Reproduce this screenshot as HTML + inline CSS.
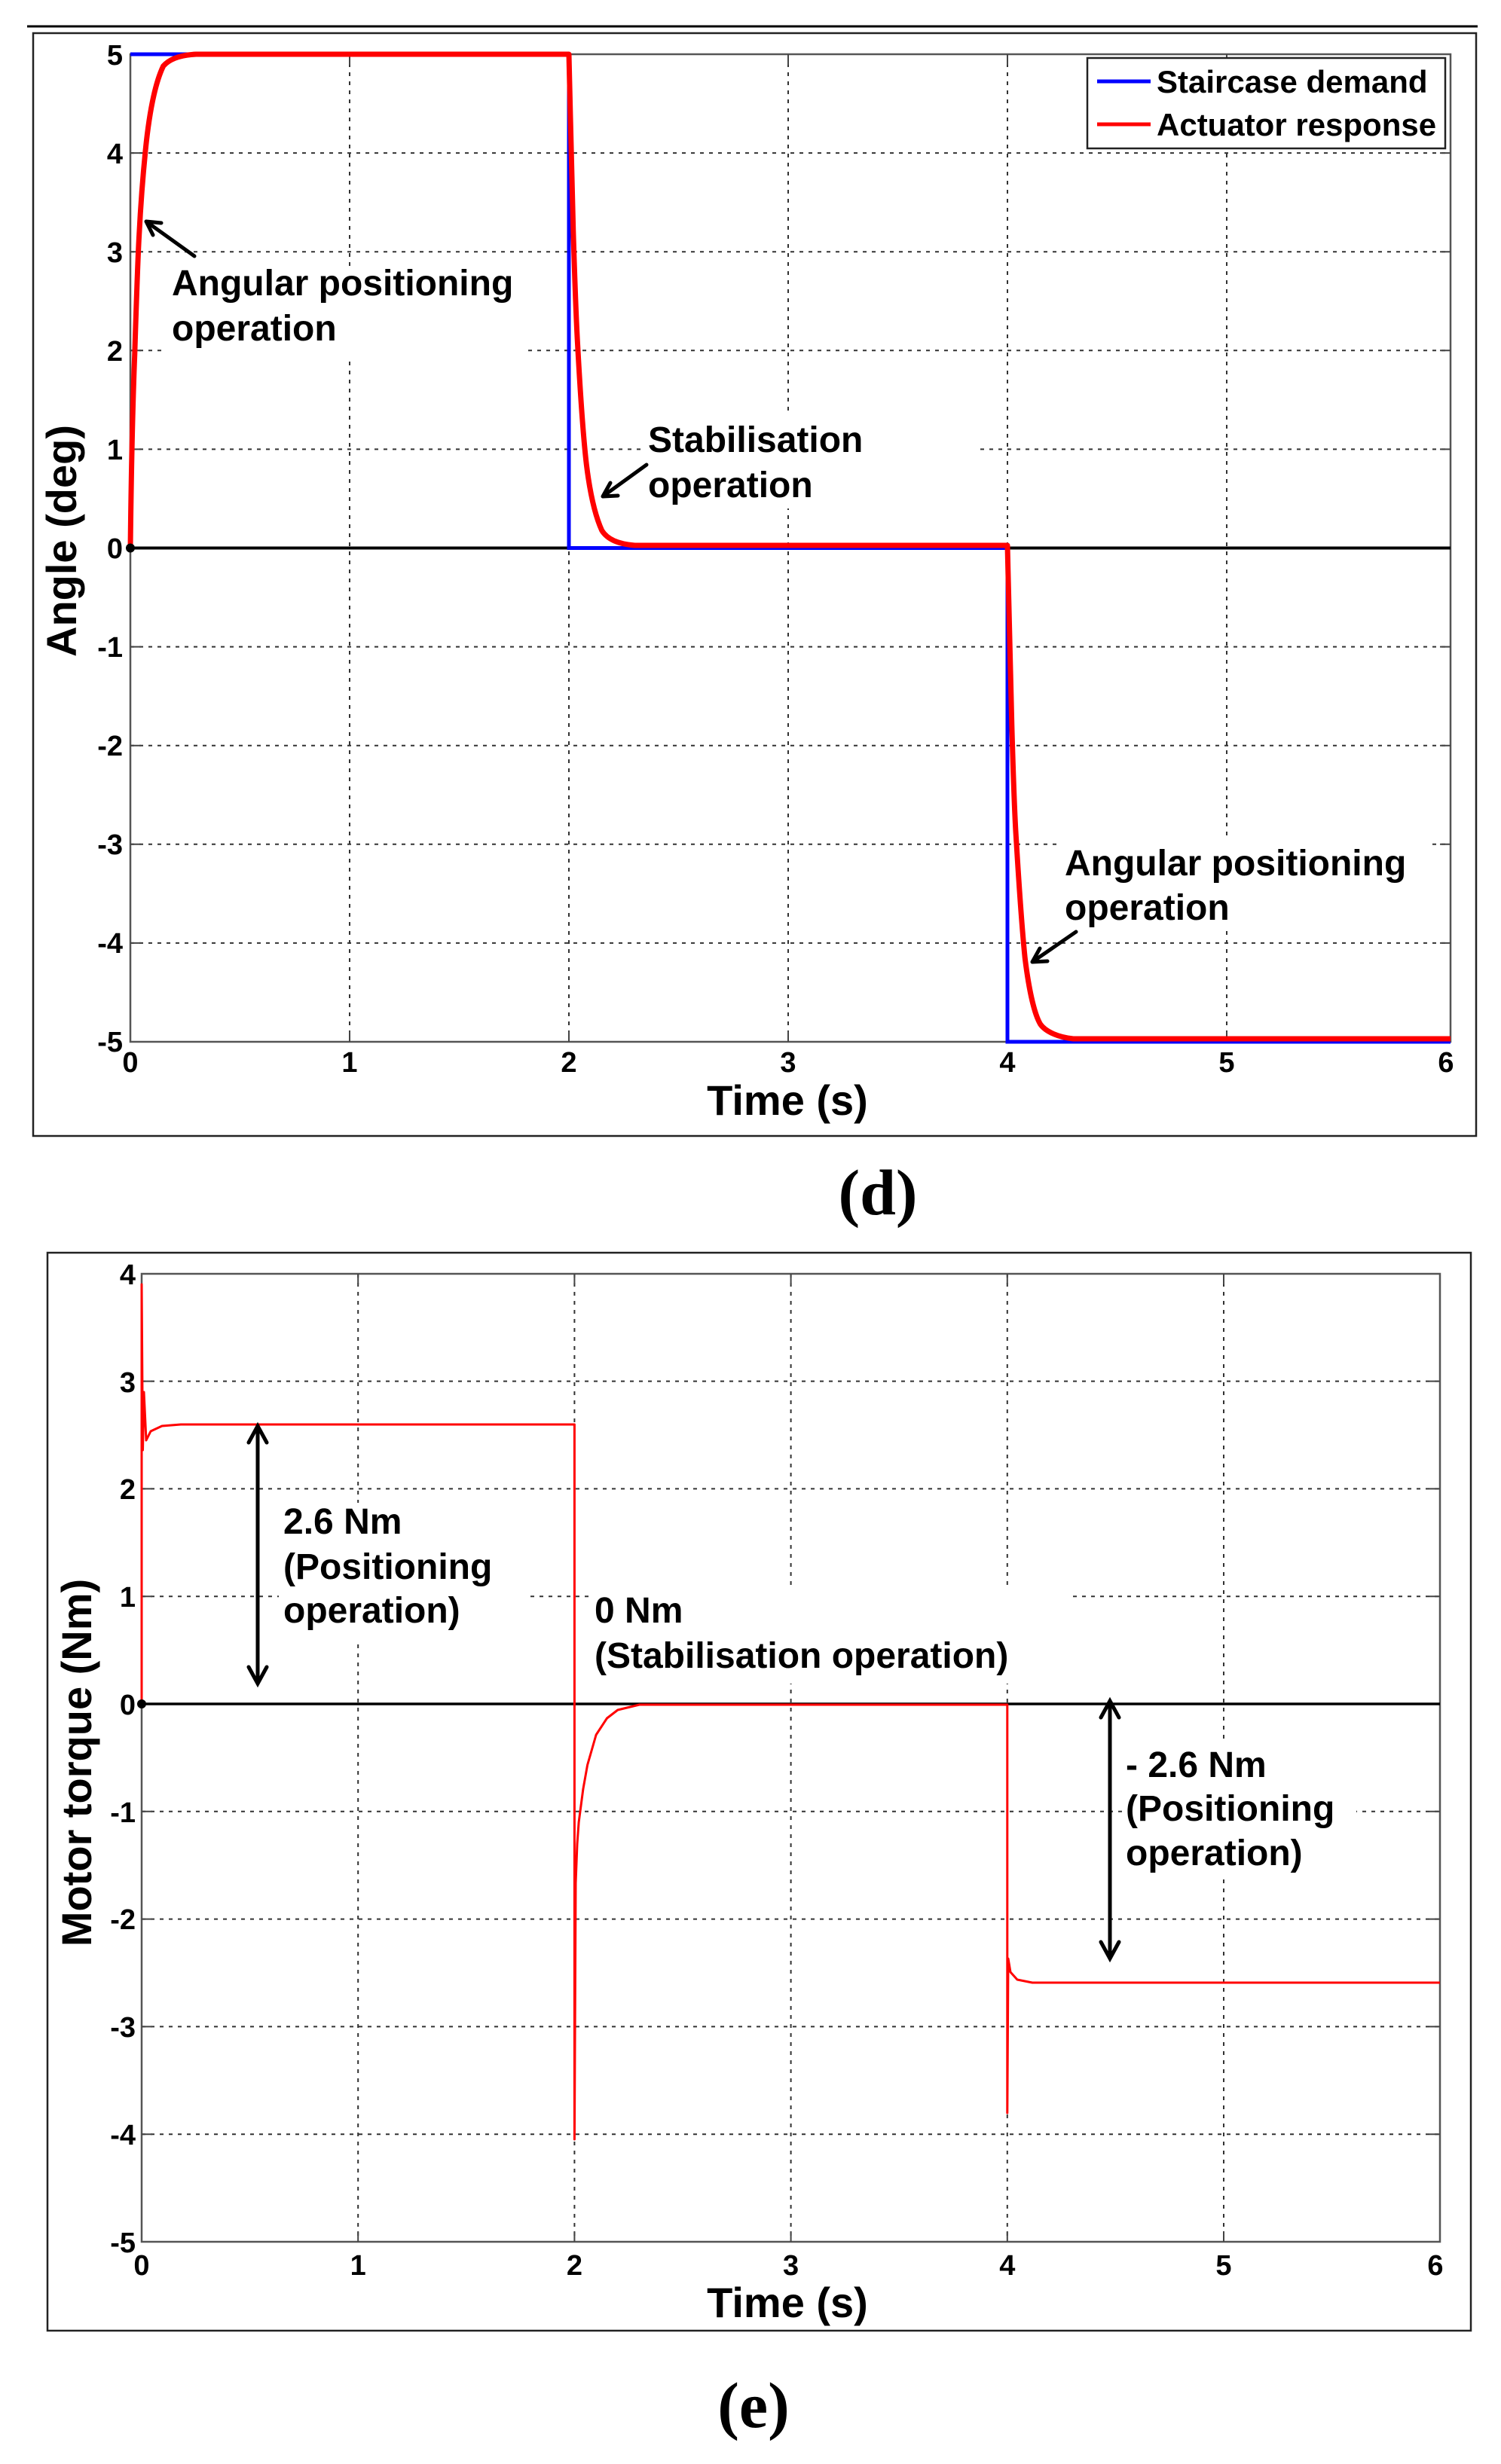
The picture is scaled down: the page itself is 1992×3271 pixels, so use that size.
<!DOCTYPE html>
<html><head><meta charset="utf-8"><style>
html,body{margin:0;padding:0;background:#fff;}
svg{display:block;}
text{font-family:"Liberation Sans",Arial,sans-serif;font-weight:bold;fill:#000;}
.ser{font-family:"Liberation Serif","Times New Roman",serif;}
</style></head><body>
<svg width="1992" height="3271" viewBox="0 0 1992 3271" xmlns="http://www.w3.org/2000/svg">
<rect width="1992" height="3271" fill="#fff"/>
<line x1="36" y1="35" x2="1961" y2="35" stroke="#000" stroke-width="3"/>

<!-- ========== (d) ========== -->
<rect x="44" y="44" width="1915" height="1464" fill="none" stroke="#222" stroke-width="2.5"/>
<g stroke="#333" stroke-width="2" stroke-dasharray="5 7" fill="none">
<path d="M464 72V1383M755 72V1383M1046 72V1383M1337 72V1383M1628 72V1383"/>
<path d="M173 203.1H1925M173 334.2H1925M173 465.3H1925M173 596.4H1925M173 858.6H1925M173 989.7H1925M173 1120.8H1925M173 1251.9H1925"/>
</g>
<rect x="220" y="355" width="480" height="120" fill="#fff"/>
<rect x="855" y="550" width="440" height="125" fill="#fff"/>
<rect x="1405" y="1115" width="490" height="120" fill="#fff"/>
<rect x="173" y="72" width="1752" height="1311" fill="none" stroke="#555" stroke-width="2.5"/>
<g stroke="#444" stroke-width="2">
<path d="M464 1383v-14M755 1383v-14M1046 1383v-14M1337 1383v-14M1628 1383v-14M464 72v14M755 72v14M1046 72v14M1337 72v14M1628 72v14"/>
<path d="M173 203.1h14M173 334.2h14M173 465.3h14M173 596.4h14M173 858.6h14M173 989.7h14M173 1120.8h14M173 1251.9h14M1925 203.1h-14M1925 334.2h-14M1925 465.3h-14M1925 596.4h-14M1925 858.6h-14M1925 989.7h-14M1925 1120.8h-14M1925 1251.9h-14"/>
</g>
<line x1="173" y1="727.5" x2="1925" y2="727.5" stroke="#000" stroke-width="4"/>
<path d="M173 72H755V727.5H1337V1383H1925" fill="none" stroke="#0000ff" stroke-width="5"/>
<path d="M173 727.5C174 640 176 540 178.8 469.6C181 400 183 340 184.6 313.2C187 265 190 230 193 200C198 150 206 110 216.7 87.7C225 78 240 73 260.3 72H755C757 150 759 250 760.8 307.3C763 380 765 430 766.6 458.1C770 520 774 580 778.3 616.7C783 655 790 685 798.7 704.2C806 716 820 722 842.3 724H1337C1339 810 1341 900 1342.8 962.8C1345 1040 1347 1090 1348.6 1113.6C1352 1170 1356 1230 1360.3 1272.2C1365 1310 1372 1345 1380.7 1359.7C1388 1370 1405 1377 1424.3 1379H1925" fill="none" stroke="#ff0000" stroke-width="7" stroke-linejoin="round"/>
<circle cx="173" cy="727.5" r="6" fill="#000"/>
<g font-size="38" text-anchor="end">
<text x="163" y="86">5</text><text x="163" y="217">4</text><text x="163" y="348">3</text><text x="163" y="479">2</text><text x="163" y="610">1</text><text x="163" y="741">0</text><text x="163" y="872">-1</text><text x="163" y="1003">-2</text><text x="163" y="1134">-3</text><text x="163" y="1265">-4</text><text x="163" y="1396">-5</text>
</g>
<g font-size="38" text-anchor="middle">
<text x="173" y="1423">0</text><text x="464" y="1423">1</text><text x="755" y="1423">2</text><text x="1046" y="1423">3</text><text x="1337" y="1423">4</text><text x="1628" y="1423">5</text><text x="1919" y="1423">6</text>
</g>
<text x="1045" y="1480" font-size="56" text-anchor="middle">Time (s)</text>
<text transform="translate(101,718) rotate(-90)" font-size="56" text-anchor="middle">Angle (deg)</text>
<rect x="1443" y="77" width="475" height="120" fill="#fff" stroke="#222" stroke-width="2.5"/>
<line x1="1456" y1="108" x2="1527" y2="108" stroke="#0000ff" stroke-width="5"/>
<line x1="1456" y1="165" x2="1527" y2="165" stroke="#ff0000" stroke-width="5"/>
<text x="1535" y="123" font-size="42">Staircase demand</text>
<text x="1535" y="180" font-size="42">Actuator response</text>
<text x="228" y="392" font-size="48">Angular positioning</text>
<text x="228" y="452" font-size="48">operation</text>
<g stroke="#000" stroke-width="5" fill="none" stroke-linecap="round">
<path d="M258 340L194 294M194 294L214 296M194 294L203 312"/>
<path d="M858 617L800 659M800 659L810 641M800 659L820 658"/>
<path d="M1428 1237L1370 1277M1370 1277L1380 1259M1370 1277L1390 1276"/>
</g>
<text x="860" y="600" font-size="48">Stabilisation</text>
<text x="860" y="660" font-size="48">operation</text>
<text x="1413" y="1162" font-size="48">Angular positioning</text>
<text x="1413" y="1221" font-size="48">operation</text>
<text x="1165" y="1612" font-size="86" text-anchor="middle" class="ser">(d)</text>

<!-- ========== (e) ========== -->
<rect x="63" y="1663" width="1889" height="1431" fill="none" stroke="#222" stroke-width="2.5"/>
<g stroke="#333" stroke-width="2" stroke-dasharray="5 7" fill="none">
<path d="M475.2 1691V2976M762.4 1691V2976M1049.6 1691V2976M1336.8 1691V2976M1624 1691V2976"/>
<path d="M188 1833.6H1911M188 1976.4H1911M188 2119.2H1911M188 2404.8H1911M188 2547.6H1911M188 2690.4H1911M188 2833.2H1911"/>
</g>
<rect x="370" y="1995" width="330" height="185" fill="#fff"/>
<rect x="782" y="2110" width="640" height="125" fill="#fff"/>
<rect x="1490" y="2310" width="310" height="185" fill="#fff"/>
<rect x="188" y="1691" width="1723" height="1285" fill="none" stroke="#555" stroke-width="2.5"/>
<g stroke="#444" stroke-width="2">
<path d="M475.2 2976v-14M762.4 2976v-14M1049.6 2976v-14M1336.8 2976v-14M1624 2976v-14M475.2 1691v14M762.4 1691v14M1049.6 1691v14M1336.8 1691v14M1624 1691v14"/>
<path d="M188 1833.6h14M188 1976.4h14M188 2119.2h14M188 2404.8h14M188 2547.6h14M188 2690.4h14M188 2833.2h14M1911 1833.6h-14M1911 1976.4h-14M1911 2119.2h-14M1911 2404.8h-14M1911 2547.6h-14M1911 2690.4h-14M1911 2833.2h-14"/>
</g>
<line x1="188" y1="2262" x2="1911" y2="2262" stroke="#000" stroke-width="3.5"/>
<path d="M188 2262L188 1705L189.5 1925L191 1848L194 1912L200 1900L215 1893L240 1891H762.4L762.4 2840L764 2500L766 2448L768.1 2419L773.9 2375L779.6 2343L791.1 2303L805.5 2281L819.8 2270L848.6 2263H1336.8L1336.8 2805L1338 2600L1341 2618L1350 2628L1370 2632H1911" fill="none" stroke="#ff0000" stroke-width="3" stroke-linejoin="round"/>
<circle cx="188" cy="2262" r="6" fill="#000"/>
<g font-size="38" text-anchor="end">
<text x="180" y="1705">4</text><text x="180" y="1848">3</text><text x="180" y="1990">2</text><text x="180" y="2133">1</text><text x="180" y="2276">0</text><text x="180" y="2419">-1</text><text x="180" y="2561">-2</text><text x="180" y="2704">-3</text><text x="180" y="2847">-4</text><text x="180" y="2990">-5</text>
</g>
<g font-size="38" text-anchor="middle">
<text x="188" y="3020">0</text><text x="475.2" y="3020">1</text><text x="762.4" y="3020">2</text><text x="1049.6" y="3020">3</text><text x="1336.8" y="3020">4</text><text x="1624" y="3020">5</text><text x="1905" y="3020">6</text>
</g>
<text x="1045" y="3076" font-size="56" text-anchor="middle">Time (s)</text>
<text transform="translate(121,2340) rotate(-90)" font-size="56" text-anchor="middle">Motor torque (Nm)</text>
<g stroke="#000" stroke-width="5" fill="none" stroke-linecap="round">
<path d="M342 1895V2233M330 1915L342 1893L354 1915M330 2213L342 2235L354 2213"/>
<path d="M1473 2260V2598M1461 2280L1473 2258L1485 2280M1461 2578L1473 2600L1485 2578"/>
</g>
<g font-size="48">
<text x="376" y="2036">2.6 Nm</text><text x="376" y="2096">(Positioning</text><text x="376" y="2154">operation)</text>
<text x="789" y="2154">0 Nm</text><text x="789" y="2214">(Stabilisation operation)</text>
<text x="1494" y="2359">- 2.6 Nm</text><text x="1494" y="2417">(Positioning</text><text x="1494" y="2476">operation)</text>
</g>
<text x="1000" y="3222" font-size="86" text-anchor="middle" class="ser">(e)</text>
</svg>
</body></html>
